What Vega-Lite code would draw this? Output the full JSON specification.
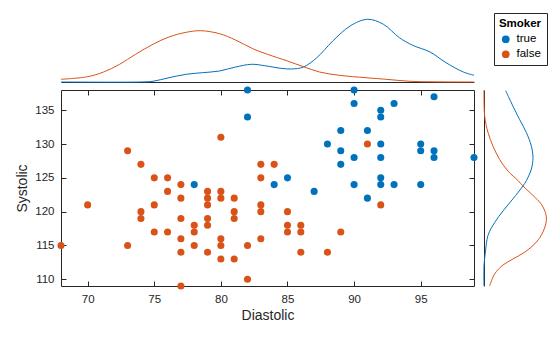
{
  "$schema": "https://vega.github.io/schema/vega-lite/v6.json",
  "padding": {"left": 15, "top": 12, "right": 4, "bottom": 5},
  "config": {
    "font": "Liberation Sans",
    "view": {"stroke": null},
    "axis": {"labelFont": "Liberation Sans", "titleFont": "Liberation Sans", "labelColor": "#262626", "titleColor": "#262626", "domainColor": "#262626", "tickColor": "#262626", "labelFontSize": 11.5, "titleFontSize": 14, "titleFontWeight": "normal", "grid": false, "domainWidth": 1, "tickWidth": 1},
    "legend": {"labelFont": "Liberation Sans", "titleFont": "Liberation Sans", "labelFontSize": 11.5, "titleFontSize": 11.5, "titleFontWeight": "bold", "labelColor": "#000000", "titleColor": "#000000", "strokeColor": "#262626", "fillColor": "#ffffff", "padding": 5, "symbolType": "circle", "symbolSize": 60, "symbolStrokeWidth": 0, "rowPadding": 2, "titlePadding": 4, "labelOffset": 5, "titleAnchor": "middle"}
  },
  "datasets": {
    "pts": [
      {"Diastolic": 78, "Systolic": 124, "Smoker": "true"},
      {"Diastolic": 82, "Systolic": 138, "Smoker": "true"},
      {"Diastolic": 82, "Systolic": 134, "Smoker": "true"},
      {"Diastolic": 85, "Systolic": 125, "Smoker": "true"},
      {"Diastolic": 84, "Systolic": 124, "Smoker": "true"},
      {"Diastolic": 87, "Systolic": 123, "Smoker": "true"},
      {"Diastolic": 88, "Systolic": 130, "Smoker": "true"},
      {"Diastolic": 89, "Systolic": 132, "Smoker": "true"},
      {"Diastolic": 89, "Systolic": 129, "Smoker": "true"},
      {"Diastolic": 89, "Systolic": 127, "Smoker": "true"},
      {"Diastolic": 90, "Systolic": 138, "Smoker": "true"},
      {"Diastolic": 90, "Systolic": 136, "Smoker": "true"},
      {"Diastolic": 93, "Systolic": 136, "Smoker": "true"},
      {"Diastolic": 96, "Systolic": 137, "Smoker": "true"},
      {"Diastolic": 92, "Systolic": 135, "Smoker": "true"},
      {"Diastolic": 92, "Systolic": 134, "Smoker": "true"},
      {"Diastolic": 91, "Systolic": 132, "Smoker": "true"},
      {"Diastolic": 92, "Systolic": 130, "Smoker": "true"},
      {"Diastolic": 90, "Systolic": 128, "Smoker": "true"},
      {"Diastolic": 92, "Systolic": 128, "Smoker": "true"},
      {"Diastolic": 95, "Systolic": 130, "Smoker": "true"},
      {"Diastolic": 95, "Systolic": 129, "Smoker": "true"},
      {"Diastolic": 96, "Systolic": 129, "Smoker": "true"},
      {"Diastolic": 96, "Systolic": 128, "Smoker": "true"},
      {"Diastolic": 99, "Systolic": 128, "Smoker": "true"},
      {"Diastolic": 92, "Systolic": 125, "Smoker": "true"},
      {"Diastolic": 90, "Systolic": 124, "Smoker": "true"},
      {"Diastolic": 92, "Systolic": 124, "Smoker": "true"},
      {"Diastolic": 93, "Systolic": 124, "Smoker": "true"},
      {"Diastolic": 95, "Systolic": 124, "Smoker": "true"},
      {"Diastolic": 91, "Systolic": 122, "Smoker": "true"},
      {"Diastolic": 68, "Systolic": 115, "Smoker": "false"},
      {"Diastolic": 70, "Systolic": 121, "Smoker": "false"},
      {"Diastolic": 73, "Systolic": 129, "Smoker": "false"},
      {"Diastolic": 73, "Systolic": 115, "Smoker": "false"},
      {"Diastolic": 74, "Systolic": 127, "Smoker": "false"},
      {"Diastolic": 74, "Systolic": 120, "Smoker": "false"},
      {"Diastolic": 74, "Systolic": 119, "Smoker": "false"},
      {"Diastolic": 75, "Systolic": 125, "Smoker": "false"},
      {"Diastolic": 75, "Systolic": 121, "Smoker": "false"},
      {"Diastolic": 75, "Systolic": 117, "Smoker": "false"},
      {"Diastolic": 76, "Systolic": 125, "Smoker": "false"},
      {"Diastolic": 76, "Systolic": 123, "Smoker": "false"},
      {"Diastolic": 76, "Systolic": 117, "Smoker": "false"},
      {"Diastolic": 77, "Systolic": 124, "Smoker": "false"},
      {"Diastolic": 77, "Systolic": 122, "Smoker": "false"},
      {"Diastolic": 77, "Systolic": 119, "Smoker": "false"},
      {"Diastolic": 77, "Systolic": 116, "Smoker": "false"},
      {"Diastolic": 77, "Systolic": 114, "Smoker": "false"},
      {"Diastolic": 77, "Systolic": 109, "Smoker": "false"},
      {"Diastolic": 78, "Systolic": 118, "Smoker": "false"},
      {"Diastolic": 78, "Systolic": 117, "Smoker": "false"},
      {"Diastolic": 78, "Systolic": 115, "Smoker": "false"},
      {"Diastolic": 79, "Systolic": 123, "Smoker": "false"},
      {"Diastolic": 79, "Systolic": 122, "Smoker": "false"},
      {"Diastolic": 79, "Systolic": 121, "Smoker": "false"},
      {"Diastolic": 79, "Systolic": 119, "Smoker": "false"},
      {"Diastolic": 79, "Systolic": 118, "Smoker": "false"},
      {"Diastolic": 79, "Systolic": 114, "Smoker": "false"},
      {"Diastolic": 80, "Systolic": 131, "Smoker": "false"},
      {"Diastolic": 80, "Systolic": 123, "Smoker": "false"},
      {"Diastolic": 80, "Systolic": 122, "Smoker": "false"},
      {"Diastolic": 80, "Systolic": 116, "Smoker": "false"},
      {"Diastolic": 80, "Systolic": 115, "Smoker": "false"},
      {"Diastolic": 80, "Systolic": 113, "Smoker": "false"},
      {"Diastolic": 81, "Systolic": 122, "Smoker": "false"},
      {"Diastolic": 81, "Systolic": 120, "Smoker": "false"},
      {"Diastolic": 81, "Systolic": 119, "Smoker": "false"},
      {"Diastolic": 81, "Systolic": 113, "Smoker": "false"},
      {"Diastolic": 82, "Systolic": 115, "Smoker": "false"},
      {"Diastolic": 82, "Systolic": 110, "Smoker": "false"},
      {"Diastolic": 83, "Systolic": 127, "Smoker": "false"},
      {"Diastolic": 83, "Systolic": 125, "Smoker": "false"},
      {"Diastolic": 83, "Systolic": 121, "Smoker": "false"},
      {"Diastolic": 83, "Systolic": 120, "Smoker": "false"},
      {"Diastolic": 83, "Systolic": 116, "Smoker": "false"},
      {"Diastolic": 84, "Systolic": 127, "Smoker": "false"},
      {"Diastolic": 85, "Systolic": 120, "Smoker": "false"},
      {"Diastolic": 85, "Systolic": 118, "Smoker": "false"},
      {"Diastolic": 85, "Systolic": 117, "Smoker": "false"},
      {"Diastolic": 86, "Systolic": 118, "Smoker": "false"},
      {"Diastolic": 86, "Systolic": 117, "Smoker": "false"},
      {"Diastolic": 86, "Systolic": 114, "Smoker": "false"},
      {"Diastolic": 88, "Systolic": 114, "Smoker": "false"},
      {"Diastolic": 89, "Systolic": 117, "Smoker": "false"},
      {"Diastolic": 91, "Systolic": 130, "Smoker": "false"},
      {"Diastolic": 92, "Systolic": 121, "Smoker": "false"}
    ],
    "dia": [
      {"Diastolic": 68, "density": 0.0046, "Smoker": "false"},
      {"Diastolic": 70, "density": 0.0090, "Smoker": "false"},
      {"Diastolic": 71.2, "density": 0.0170, "Smoker": "false"},
      {"Diastolic": 72.4, "density": 0.0301, "Smoker": "false"},
      {"Diastolic": 73.6, "density": 0.0471, "Smoker": "false"},
      {"Diastolic": 74.9, "density": 0.0641, "Smoker": "false"},
      {"Diastolic": 76.1, "density": 0.0765, "Smoker": "false"},
      {"Diastolic": 77.4, "density": 0.0845, "Smoker": "false"},
      {"Diastolic": 78.5, "density": 0.0872, "Smoker": "false"},
      {"Diastolic": 79.9, "density": 0.0821, "Smoker": "false"},
      {"Diastolic": 81.1, "density": 0.0714, "Smoker": "false"},
      {"Diastolic": 82.4, "density": 0.0565, "Smoker": "false"},
      {"Diastolic": 83.5, "density": 0.0471, "Smoker": "false"},
      {"Diastolic": 85, "density": 0.0357, "Smoker": "false"},
      {"Diastolic": 86.2, "density": 0.0260, "Smoker": "false"},
      {"Diastolic": 87.4, "density": 0.0170, "Smoker": "false"},
      {"Diastolic": 88.9, "density": 0.0114, "Smoker": "false"},
      {"Diastolic": 90.9, "density": 0.0073, "Smoker": "false"},
      {"Diastolic": 92.4, "density": 0.0046, "Smoker": "false"},
      {"Diastolic": 94.2, "density": 0.0012, "Smoker": "false"},
      {"Diastolic": 96, "density": 0.0003, "Smoker": "false"},
      {"Diastolic": 99, "density": 0.0, "Smoker": "false"},
      {"Diastolic": 68, "density": 0.0, "Smoker": "true"},
      {"Diastolic": 73.9, "density": 0.0, "Smoker": "true"},
      {"Diastolic": 74.9, "density": 0.0012, "Smoker": "true"},
      {"Diastolic": 76.1, "density": 0.0073, "Smoker": "true"},
      {"Diastolic": 77.4, "density": 0.0131, "Smoker": "true"},
      {"Diastolic": 78.6, "density": 0.0158, "Smoker": "true"},
      {"Diastolic": 79.9, "density": 0.0187, "Smoker": "true"},
      {"Diastolic": 81.1, "density": 0.0255, "Smoker": "true"},
      {"Diastolic": 82.3, "density": 0.0301, "Smoker": "true"},
      {"Diastolic": 83.3, "density": 0.0277, "Smoker": "true"},
      {"Diastolic": 84.5, "density": 0.0233, "Smoker": "true"},
      {"Diastolic": 85.3, "density": 0.0221, "Smoker": "true"},
      {"Diastolic": 86.2, "density": 0.0255, "Smoker": "true"},
      {"Diastolic": 87.2, "density": 0.0413, "Smoker": "true"},
      {"Diastolic": 88.4, "density": 0.0697, "Smoker": "true"},
      {"Diastolic": 89.7, "density": 0.0952, "Smoker": "true"},
      {"Diastolic": 91.0, "density": 0.1066, "Smoker": "true"},
      {"Diastolic": 92.2, "density": 0.0981, "Smoker": "true"},
      {"Diastolic": 93.4, "density": 0.0753, "Smoker": "true"},
      {"Diastolic": 94.4, "density": 0.0624, "Smoker": "true"},
      {"Diastolic": 95.7, "density": 0.0510, "Smoker": "true"},
      {"Diastolic": 96.9, "density": 0.0328, "Smoker": "true"},
      {"Diastolic": 98.2, "density": 0.0170, "Smoker": "true"},
      {"Diastolic": 99, "density": 0.0114, "Smoker": "true"}
    ],
    "sys": [
      {"Systolic": 138, "density": 0.0, "Smoker": "false"},
      {"Systolic": 134.1, "density": 0.0009, "Smoker": "false"},
      {"Systolic": 131.7, "density": 0.0052, "Smoker": "false"},
      {"Systolic": 129.7, "density": 0.0116, "Smoker": "false"},
      {"Systolic": 127.7, "density": 0.0203, "Smoker": "false"},
      {"Systolic": 126, "density": 0.0310, "Smoker": "false"},
      {"Systolic": 124.6, "density": 0.0439, "Smoker": "false"},
      {"Systolic": 123.8, "density": 0.0503, "Smoker": "false"},
      {"Systolic": 122.4, "density": 0.0632, "Smoker": "false"},
      {"Systolic": 121.1, "density": 0.0740, "Smoker": "false"},
      {"Systolic": 119.7, "density": 0.0796, "Smoker": "false"},
      {"Systolic": 118.7, "density": 0.0805, "Smoker": "false"},
      {"Systolic": 117, "density": 0.0761, "Smoker": "false"},
      {"Systolic": 115.5, "density": 0.0676, "Smoker": "false"},
      {"Systolic": 114, "density": 0.0525, "Smoker": "false"},
      {"Systolic": 113, "density": 0.0374, "Smoker": "false"},
      {"Systolic": 112.1, "density": 0.0245, "Smoker": "false"},
      {"Systolic": 110.8, "density": 0.0138, "Smoker": "false"},
      {"Systolic": 109.1, "density": 0.0074, "Smoker": "false"},
      {"Systolic": 109, "density": 0.0068, "Smoker": "false"},
      {"Systolic": 137.9, "density": 0.0280, "Smoker": "true"},
      {"Systolic": 135.6, "density": 0.0374, "Smoker": "true"},
      {"Systolic": 133.6, "density": 0.0461, "Smoker": "true"},
      {"Systolic": 131.7, "density": 0.0547, "Smoker": "true"},
      {"Systolic": 129.7, "density": 0.0611, "Smoker": "true"},
      {"Systolic": 128, "density": 0.0632, "Smoker": "true"},
      {"Systolic": 126.3, "density": 0.0611, "Smoker": "true"},
      {"Systolic": 124.6, "density": 0.0547, "Smoker": "true"},
      {"Systolic": 123.8, "density": 0.0503, "Smoker": "true"},
      {"Systolic": 121.9, "density": 0.0374, "Smoker": "true"},
      {"Systolic": 120.1, "density": 0.0245, "Smoker": "true"},
      {"Systolic": 118.4, "density": 0.0138, "Smoker": "true"},
      {"Systolic": 116.5, "density": 0.0052, "Smoker": "true"},
      {"Systolic": 114, "density": 0.0018, "Smoker": "true"},
      {"Systolic": 112, "density": 0.0, "Smoker": "true"},
      {"Systolic": 109, "density": 0.0, "Smoker": "true"}
    ]
  },
  "spacing": 1,
  "vconcat": [
    {
      "width": 413,
      "height": 63,
      "data": {"name": "dia"},
      "encoding": {
        "x": {"field": "Diastolic", "type": "quantitative", "scale": {"domain": [68, 99], "nice": false, "zero": false}, "axis": {"labels": false, "ticks": false, "title": null, "domain": true}},
        "y": {"field": "density", "type": "quantitative", "scale": {"domain": [0, 0.1071], "nice": false}, "axis": null},
        "order": {"field": "Diastolic", "type": "quantitative"}
      },
      "layer": [
        {
          "transform": [{"filter": "datum.Smoker == 'true'"}],
          "mark": {"type": "line", "strokeWidth": 1, "interpolate": "catmull-rom", "color": "#0072BD"}
        },
        {
          "transform": [{"filter": "datum.Smoker == 'false'"}],
          "mark": {"type": "line", "strokeWidth": 1, "interpolate": "catmull-rom", "color": "#D95319"}
        }
      ]
    },
    {
      "spacing": 3,
      "hconcat": [
        {
          "width": 413,
          "height": 196,
          "data": {"name": "pts"},
          "layer": [
            {
              "mark": {"type": "circle", "size": 50, "opacity": 1},
              "encoding": {
                "x": {"field": "Diastolic", "type": "quantitative", "scale": {"domain": [68, 99], "nice": false, "zero": false}, "axis": {"orient": "bottom", "values": [70, 75, 80, 85, 90, 95], "tickSize": -5, "labelPadding": 12, "title": "Diastolic", "titlePadding": 4}},
                "y": {"field": "Systolic", "type": "quantitative", "scale": {"domain": [109, 138], "nice": false, "zero": false}, "axis": {"orient": "left", "values": [110, 115, 120, 125, 130, 135], "tickSize": -5, "labelPadding": 12, "title": "Systolic", "titlePadding": 5}},
                "color": {"field": "Smoker", "type": "nominal", "scale": {"domain": ["true", "false"], "range": ["#0072BD", "#D95319"]}, "legend": {"title": "Smoker", "orient": "none", "legendX": 433, "legendY": -6}}
              }
            },
            {
              "mark": {"type": "circle", "size": 50, "opacity": 0},
              "encoding": {
                "x": {"field": "Diastolic", "type": "quantitative", "scale": {"domain": [68, 99], "nice": false, "zero": false}, "axis": {"orient": "top", "values": [70, 75, 80, 85, 90, 95], "tickSize": -5, "labels": false, "title": null}},
                "y": {"field": "Systolic", "type": "quantitative", "scale": {"domain": [109, 138], "nice": false, "zero": false}, "axis": {"orient": "right", "values": [110, 115, 120, 125, 130, 135], "tickSize": -5, "labels": false, "title": null}}
              }
            }
          ],
          "resolve": {"axis": {"x": "independent", "y": "independent"}}
        },
        {
          "width": 63,
          "height": 196,
          "data": {"name": "sys"},
          "encoding": {
            "x": {"field": "density", "type": "quantitative", "scale": {"domain": [0, 0.0813], "nice": false}, "axis": null},
            "y": {"field": "Systolic", "type": "quantitative", "scale": {"domain": [109, 138], "nice": false, "zero": false}, "axis": {"labels": false, "ticks": false, "title": null, "domain": true}},
            "order": {"field": "Systolic", "type": "quantitative"}
          },
          "layer": [
            {
              "transform": [{"filter": "datum.Smoker == 'true'"}],
              "mark": {"type": "line", "strokeWidth": 1, "interpolate": "catmull-rom", "color": "#0072BD"}
            },
            {
              "transform": [{"filter": "datum.Smoker == 'false'"}],
              "mark": {"type": "line", "strokeWidth": 1, "interpolate": "catmull-rom", "color": "#D95319"}
            }
          ]
        }
      ]
    }
  ]
}
